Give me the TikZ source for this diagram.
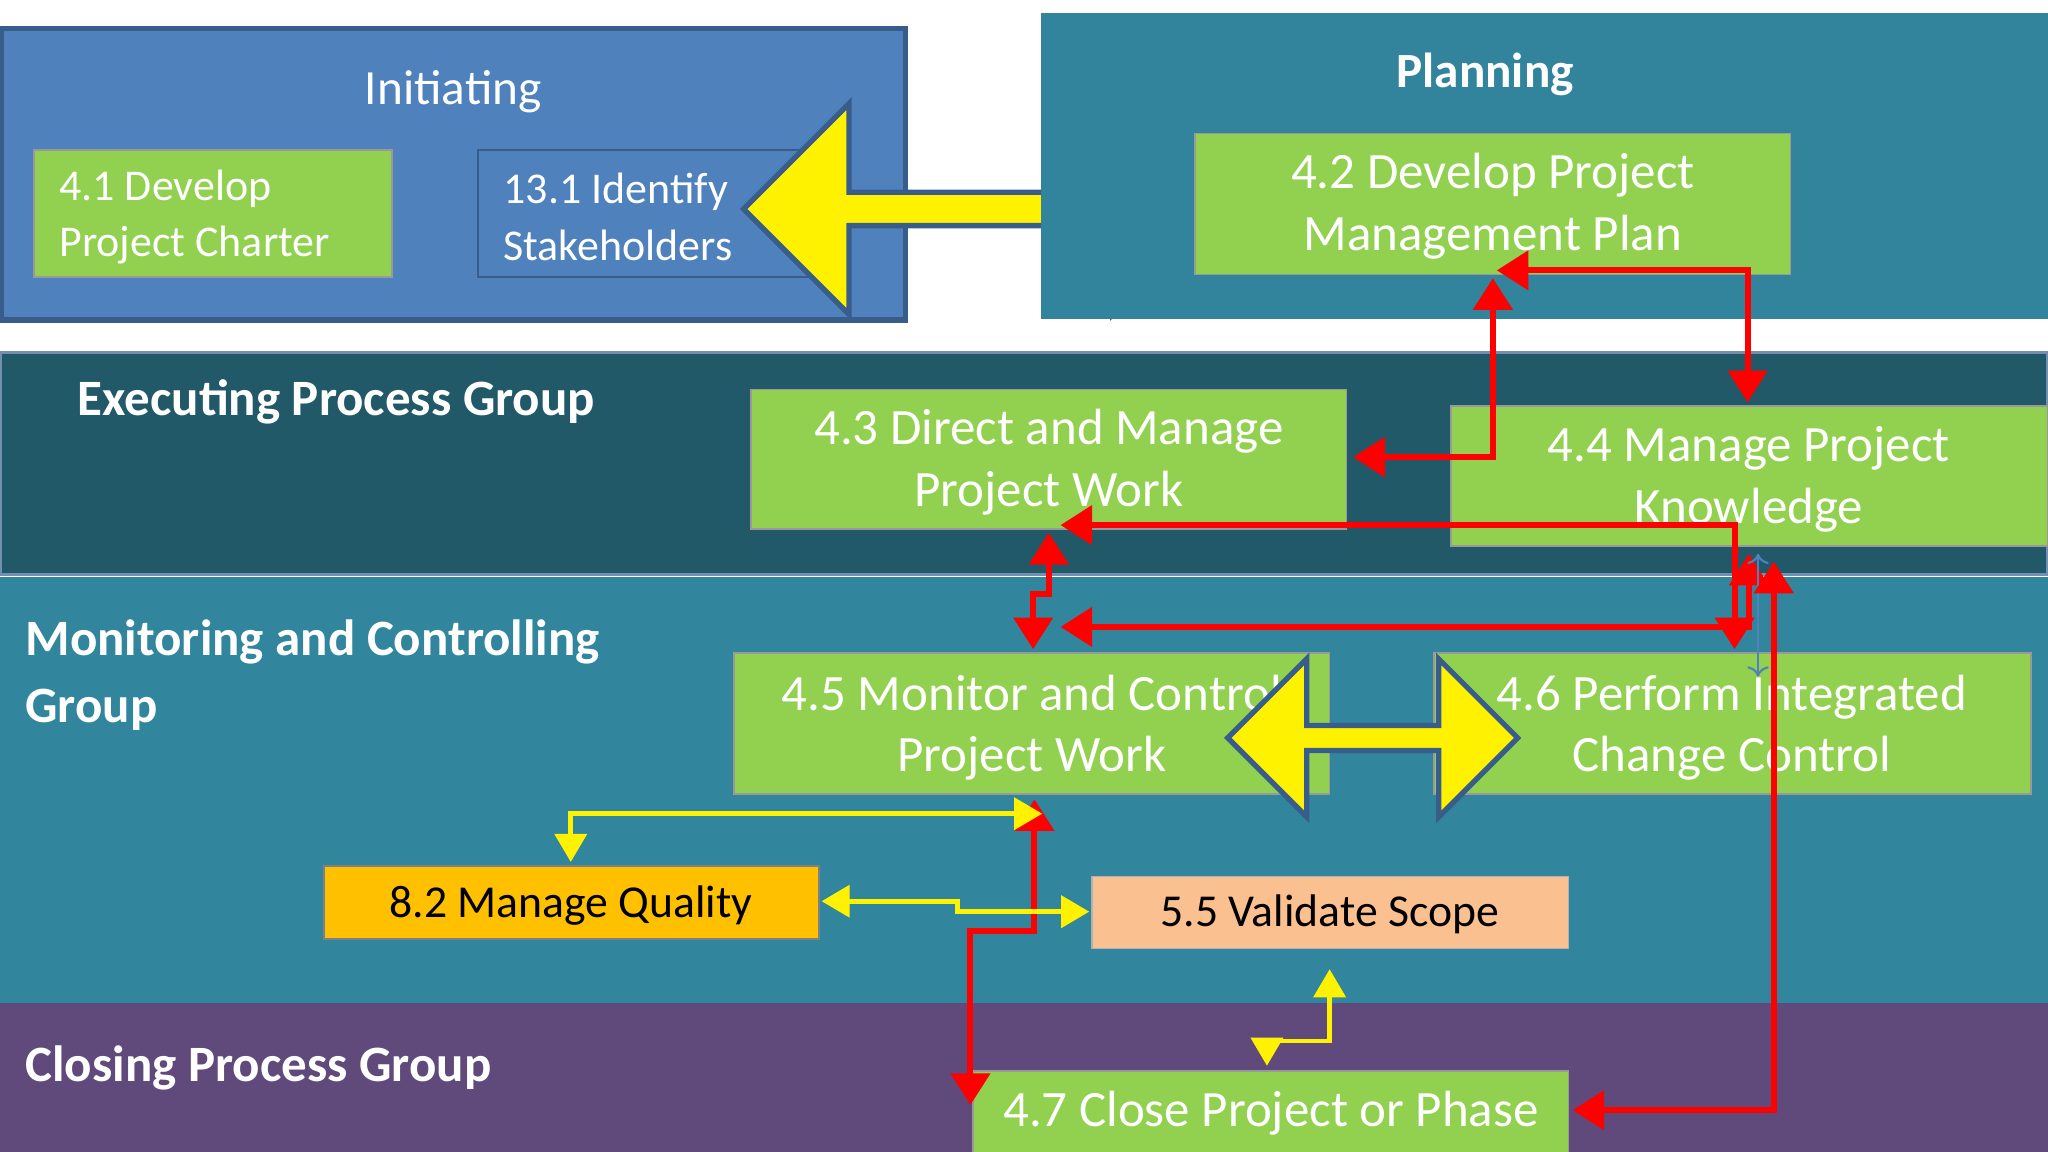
\documentclass[tikz,border=0pt]{standalone}
\usepackage{fontspec}
\setmainfont{Carlito}
\usetikzlibrary{arrows.meta,shapes.arrows}
\definecolor{initb}{HTML}{4F81BD}
\definecolor{initd}{HTML}{385D8A}
\definecolor{plan}{HTML}{31849B}
\definecolor{exec}{HTML}{215968}
\definecolor{mon}{HTML}{31859C}
\definecolor{clos}{HTML}{604A7B}
\definecolor{grn}{HTML}{92D050}
\definecolor{org}{HTML}{FFC000}
\definecolor{peach}{HTML}{FAC090}
\begin{document}
\begin{tikzpicture}[x=0.013061cm,y=-0.013061cm,
  band/.style={draw=none},
  proc/.style={fill=grn,draw=black!40,line width=0.4pt},
  ptext/.style={text=white,font=\fontsize{14.5}{17.5}\selectfont,align=center},
  ttl/.style={text=white,font=\bfseries\fontsize{14.5}{19}\selectfont,align=left,anchor=west},
  red/.style={draw=red,line width=1.7pt,{Triangle[width=11pt,length=9pt]}-{Triangle[width=11pt,length=9pt]}},
  ylw/.style={draw=yellow,line width=1.4pt,{Triangle[width=9pt,length=8pt]}-{Triangle[width=9pt,length=8pt]}},
  dbl/.style={double arrow,fill=yellow,draw=initd,line width=1.5pt,double arrow head extend=4pt,inner sep=0pt}]
\useasboundingbox (0,0) rectangle (1568,882);
\fill[white] (0,0) rectangle (1568,882);
% Initiating
\path[fill=initb,draw=initd,line width=1.5pt] (1,22) rectangle (693,245);
\node[text=white,font=\fontsize{14}{17}\selectfont] (tinit) at (347,70) {Initiating};
\path[proc] (26,115) rectangle (300,212);
\node[text=white,font=\fontsize{12.5}{16}\selectfont,align=left,anchor=west] (p41) at (36,166) {4.1 Develop\\Project Charter};
\path[fill=initb,draw=initd,line width=0.5pt] (366,115) rectangle (640,212);
\node[text=white,font=\fontsize{12.5}{16}\selectfont,align=left,anchor=west] (p131) at (376,166) {13.1 Identify\\Stakeholders};
\node[dbl,minimum width=40\pgflinewidth,minimum height=90\pgflinewidth] (da1) at (751,160) {};
% Planning
\fill[plan] (797,10) rectangle (1568,244);
\node[text=white,font=\bfseries\fontsize{14}{17}\selectfont] (tplan) at (1137,57) {Planning};
\path[proc] (915,102) rectangle (1371,210);
\node[ptext] (p42) at (1143,158) {4.2 Develop Project\\Management Plan};
% Executing
\path[fill=exec,draw=initd!70,line width=1pt] (0,270) rectangle (1568,440);
\node[ttl] (texec) at (50,308) {Executing Process Group};
\path[proc] (575,298) rectangle (1031,405);
\node[ptext] (p43) at (803,354) {4.3 Direct and Manage\\Project Work};
\path[proc] (1111,311) rectangle (1568,418);
\node[ptext] (p44) at (1339,367) {4.4 Manage Project\\Knowledge};
% Monitoring
\fill[mon] (0,442) rectangle (1568,768);
\node[ttl,anchor=north west] (tmon) at (10,465) {Monitoring and Controlling\\Group};
\path[proc] (562,500) rectangle (1018,608);
\node[ptext] (p45) at (790,557) {4.5 Monitor and Control\\Project Work};
\path[proc] (1098,500) rectangle (1555,608);
\node[ptext] (p46) at (1326,557) {4.6 Perform Integrated\\Change Control};
\node[dbl,minimum width=30\pgflinewidth,minimum height=55\pgflinewidth] (da2) at (1051,565) {};
\path[fill=org,draw=black!50,line width=0.4pt] (248,663) rectangle (627,719);
\node[text=black,font=\fontsize{13}{16}\selectfont] (p82) at (437,693) {8.2 Manage Quality};
\path[fill=peach,draw=black!30,line width=0.4pt] (836,671) rectangle (1201,726);
\node[text=black,font=\fontsize{13}{16}\selectfont] (p55) at (1018,700) {5.5 Validate Scope};
% Closing
\fill[clos] (0,768) rectangle (1568,882);
\node[ttl] (tclos) at (10,818) {Closing Process Group};
\path[proc] (745,820) rectangle (1201,884);
\node[ptext] (p47) at (973,852) {4.7 Close Project or Phase};
% red connectors
\coordinate (a1) at (1036,350); \coordinate (a2) at (1143,213);
\draw[red] (a1) -| (a2);
\coordinate (b1) at (1146,207); \coordinate (b2) at (1338,308);
\draw[red] (b1) -| (b2);
\coordinate (c1) at (812,402); \coordinate (c2) at (1328,497);
\draw[red] (c1) -| (c2);
\coordinate (d1) at (812,480); \coordinate (d2) at (1339,424);
\draw[red] (d1) -| (d2);
\draw[draw=initb,line width=0.6pt,<->] (1346,424) -- (1346,518);
\coordinate (e1) at (803,408); \coordinate (e2) at (791,497);
\draw[red] (e1) -- (803,455) -- (791,455) -- (e2);
\coordinate (f1) at (1204,850); \coordinate (f2) at (1358,430);
\draw[red] (f1) -| (f2);
\coordinate (g1) at (792,612); \coordinate (g2) at (743,846);
\draw[red] (g1) -- (792,713) -- (743,713) -- (g2);
% yellow connectors
\coordinate (h1) at (437,660); \coordinate (h2) at (798,623);
\draw[ylw] (h1) |- (h2);
\coordinate (i1) at (629,690); \coordinate (i2) at (834,698);
\draw[ylw] (i1) -- (733,690) -- (733,698) -- (i2);
\coordinate (j1) at (970,816); \coordinate (j2) at (1018,742);
\draw[ylw] (j1) -- (970,797) -- (1018,797) -- (j2);
\end{tikzpicture}
\end{document}
